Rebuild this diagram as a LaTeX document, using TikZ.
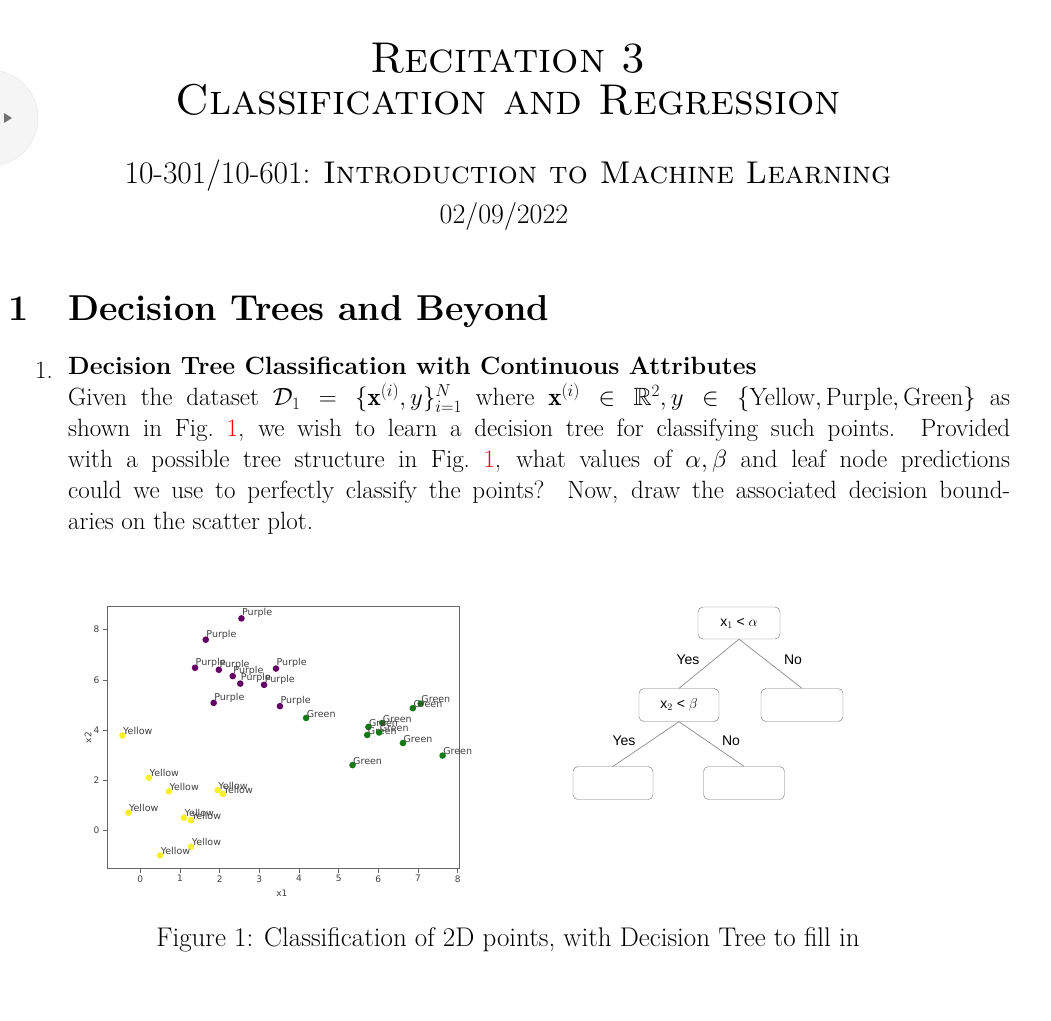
\documentclass[tikz,border=0pt]{standalone}
\usepackage{amsmath,amssymb}
\usepackage{fontspec}
\newfontfamily\tsans{Liberation Sans}
\newfontfamily\dsans{DejaVu Sans}
\begin{document}
\begin{tikzpicture}[x=1pt,y=-1pt,
  treebox/.style={draw=black!55,rounded corners=5pt,minimum width=80pt,minimum height=33pt,inner sep=0pt,font=\tsans\fontsize{14}{16}\selectfont},
  edge/.style={draw=black!45,line width=0.7pt},
  elab/.style={font=\tsans\fontsize{14}{16}\selectfont},
  ptP/.style={fill={rgb,255:red,100;green,0;blue,100}},
  ptG/.style={fill={rgb,255:red,20;green,120;blue,20}},
  ptY/.style={fill={rgb,255:red,245;green,240;blue,40}},
  plab/.style={anchor=south west,inner sep=0.5pt,text=black!75,font=\dsans\fontsize{9.5}{10}\selectfont},
  tickl/.style={text=black!75,font=\dsans\fontsize{9}{10}\selectfont,inner sep=1pt}]
\useasboundingbox (0,0) rectangle (1051,1020);
% UI artifact
\fill[black!4] (-10,118) circle (48);
\draw[black!10] (-10,118) circle (48);
\fill[black!55] (4,113) -- (12,118) -- (4,123) -- cycle;
% title
\node (t1) at (508,58) {\fontsize{43}{48}\selectfont\textsc{Recitation 3}};
\node (t2) at (508,100) {\fontsize{43}{48}\selectfont\textsc{Classification and Regression}};
\node (t3) at (508,176) {\fontsize{31.5}{34}\selectfont 10-301/10-601: \textsc{Introduction to Machine Learning}};
\node (t4) at (504,216) {\fontsize{28}{30}\selectfont 02/09/2022};
\node[anchor=base west,inner sep=0pt] (sn) at (8,320) {\fontsize{36}{40}\selectfont\bfseries 1};
\node[anchor=base west,inner sep=0pt] (st) at (68,320) {\fontsize{36}{40}\selectfont\bfseries Decision Trees and Beyond};
\node[anchor=base west,inner sep=0pt] (in) at (35,378) {\fontsize{25}{31}\selectfont 1.};
\node[anchor=north west,inner sep=0pt,text width=942pt,align=justify] (par) at (68,357)
{\fontsize{25}{31}\selectfont\textbf{Decision Tree Classification with Continuous Attributes}\\
Given the dataset $\mathcal{D}_1=\{\mathbf{x}^{(i)},y\}_{i=1}^{N}$ where $\mathbf{x}^{(i)}\in\mathbb{R}^2, y\in\{\text{Yellow},\text{Purple},\text{Green}\}$ as\linebreak
shown in Fig.~\textcolor{red}{1}, we wish to learn a decision tree for classifying such points. Provided\linebreak
with a possible tree structure in Fig.~\textcolor{red}{1}, what values of $\alpha,\beta$ and leaf node predictions\linebreak
could we use to perfectly classify the points? Now, draw the associated decision bound-\linebreak
aries on the scatter plot.\par};
% scatter plot
\draw[black!60,line width=0.8pt] (107.3,606.7) rectangle (459.3,868.3);
\begin{scope}[shift={(140.3,830.3)},x=39.67pt,y=25.08pt]
\foreach \i in {0,...,8}{
  \draw[black!60] (\i,-1.49) -- ++(0,-0.2);
  \node[tickl,anchor=north] at (\i,-1.75) {\i};}
\foreach \j in {0,2,4,6,8}{
  \draw[black!60] (-0.83,\j) -- ++(-0.12,0);
  \node[tickl,anchor=east] at (-1.0,\j) {\j};}
\node[tickl] (xl) at (3.57,-2.5) {x1};
\node[tickl,rotate=90] (yl) at (-1.32,3.7) {x2};
\foreach \x/\y in {2.55/8.45,1.65/7.6,1.38/6.48,1.98/6.4,2.33/6.15,2.52/5.85,3.12/5.8,3.42/6.45,1.85/5.08,3.52/4.95}{
  \fill[ptP] (\x,\y) circle (3.3pt);
  \node[plab] at (\x,\y) {Purple};}
\foreach \x/\y in {4.18/4.48,7.07/5.05,6.87/4.87,6.1/4.28,5.75/4.12,5.72/3.8,6.02/3.9,6.62/3.48,7.62/2.98,5.35/2.6}{
  \fill[ptG] (\x,\y) circle (3.3pt);
  \node[plab] at (\x,\y) {Green};}
\foreach \x/\y in {-0.45/3.78,0.22/2.1,0.72/1.55,1.95/1.6,2.08/1.45,-0.3/0.7,1.1/0.5,1.28/0.4,1.28/-0.65,0.5/-1.0}{
  \fill[ptY] (\x,\y) circle (3.3pt);
  \node[plab] at (\x,\y) {Yellow};}
\end{scope}
% tree
\node[treebox,minimum width=82pt,minimum height=32pt] (root) at (739,623) {x$_1$ < $\alpha$};
\node[treebox] (mid) at (679,705) {x$_2$ < $\beta$};
\node[treebox,minimum width=82pt] (right) at (802,705) {};
\node[treebox] (l1) at (613,783) {};
\node[treebox,minimum width=81pt] (l2) at (744,783) {};
\draw[edge] (root.south) -- (mid.north);
\draw[edge] (root.south) -- (right.north);
\draw[edge] (mid.south) -- (l1.north);
\draw[edge] (mid.south) -- (l2.north);
\node[elab] (y1) at (688,660) {Yes};
\node[elab] (n1) at (793,660) {No};
\node[elab] (y2) at (624,741) {Yes};
\node[elab] (n2) at (731,741) {No};
% caption
\node (cap) at (508,940) {\fontsize{27}{30}\selectfont Figure 1: Classification of 2D points, with Decision Tree to fill in};
\end{tikzpicture}
\end{document}
